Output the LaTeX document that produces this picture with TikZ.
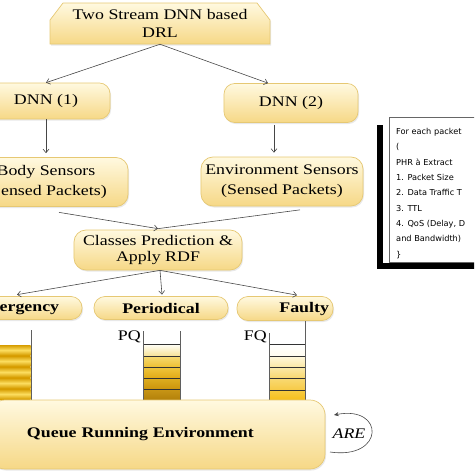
\documentclass[tikz,border=0pt]{standalone}
\usepackage{fontspec}
\setmainfont[FakeStretch=1.22]{Liberation Serif}
\newfontfamily\panelfont{DejaVu Sans}
\usetikzlibrary{shapes.misc,shadows,calc,arrows.meta}

\definecolor{boxtop}{RGB}{255,249,224}
\definecolor{boxbot}{RGB}{246,216,134}
\definecolor{boxline}{RGB}{230,200,115}
\definecolor{linegray}{RGB}{70,70,70}
\definecolor{wallgray}{RGB}{95,95,95}
\definecolor{pq1t}{RGB}{255,255,250}\definecolor{pq1b}{RGB}{246,226,150}
\definecolor{pq2t}{RGB}{246,218,115}\definecolor{pq2b}{RGB}{238,192,50}
\definecolor{pq3t}{RGB}{238,198,62}\definecolor{pq3b}{RGB}{226,170,22}
\definecolor{pq4t}{RGB}{222,174,32}\definecolor{pq4b}{RGB}{204,148,12}
\definecolor{pq5t}{RGB}{200,150,22}\definecolor{pq5b}{RGB}{178,128,10}
\definecolor{fq1t}{RGB}{255,255,255}\definecolor{fq1b}{RGB}{255,252,240}
\definecolor{fq2t}{RGB}{255,248,222}\definecolor{fq2b}{RGB}{251,232,165}
\definecolor{fq3t}{RGB}{251,234,170}\definecolor{fq3b}{RGB}{248,216,112}
\definecolor{fq4t}{RGB}{249,218,115}\definecolor{fq4b}{RGB}{247,202,70}
\definecolor{fq5t}{RGB}{248,204,66}\definecolor{fq5b}{RGB}{245,190,28}
\definecolor{emgA}{RGB}{214,156,0}
\definecolor{emgB}{RGB}{252,222,96}

\tikzset{
  shell/.style={top color=boxtop, bottom color=boxbot, draw=boxline, line width=0.6pt,
    drop shadow={shadow xshift=0.9pt, shadow yshift=-1.3pt, opacity=0.18}},
  base/.style={shell, font=\fontsize{12.5}{14.5}\selectfont, align=center, inner sep=1pt, text=black},
  rbox/.style={base, rounded corners=0.32cm},
  pill/.style={base, rounded corners=0.33cm, font=\bfseries\fontsize{12.5}{14.5}\selectfont},
  arr/.style={draw=linegray, line width=0.5pt, -{Straight Barb[length=3pt,width=5pt]}},
  wall/.style={draw=wallgray, line width=0.8pt},
  cellline/.style={draw=black!80, line width=0.6pt},
  lab/.style={font=\fontsize{12.5}{14.5}\selectfont, inner sep=0pt},
}

\begin{document}
\begin{tikzpicture}[x=0.03cm, y=-0.03cm]
\useasboundingbox (0,0) rectangle (474,474);
\clip (0,0) rectangle (474,474);

% top node (chamfered top corners)
\path[shell] (50,44) -- (50,20) -- (63,3) -- (257,3) -- (270,20) -- (270,44) -- cycle;
\node[minimum width=6.6cm, minimum height=1.23cm, align=center, inner sep=1pt,
  font=\fontsize{12.5}{15.4}\selectfont] (top) at (160,23.5) {Two Stream DNN based\\DRL};

\node[rbox, minimum width=3.84cm, minimum height=1.08cm] (dnn1) at (46,101) {DNN (1)};
\node[rbox, minimum width=4.02cm, minimum height=1.17cm] (dnn2) at (291,103) {DNN (2)};

\node[rbox, rounded corners=0.36cm, minimum width=4.92cm, minimum height=1.47cm,
  font=\fontsize{12.5}{17}\selectfont] (body) at (46,182) {Body Sensors\\(Sensed Packets)};
\node[rbox, rounded corners=0.36cm, minimum width=4.86cm, minimum height=1.47cm,
  font=\fontsize{12.5}{17}\selectfont] (env) at (282,181.5) {Environment Sensors\\(Sensed Packets)};

\node[rbox, rounded corners=0.36cm, minimum width=5.04cm, minimum height=1.2cm] (cls) at (158,250) {Classes Prediction \&\\Apply RDF};

\node[pill, minimum width=3.96cm, minimum height=0.69cm] (emg) at (16,308) {Emergency};
\node[pill, minimum width=4.02cm, minimum height=0.69cm] (per) at (161,308) {Periodical};
\node[pill, minimum width=2.88cm, minimum height=0.72cm, inner xsep=0.12cm,
  text width=2.64cm, align=right] (flt) at (285,308.5) {Faulty};

% connectors
\draw[arr] (top.south) -- (dnn1.north);
\draw[arr] (top.south) -- ($(dnn2.north)+(-23,0)$);
\draw[arr] (dnn1.south) -- ($(body.north)+(0,-4)$);
\draw[arr] ($(dnn2.south)+(-17,2)$) -- ($(env.north)+(-8,-4)$);
\coordinate (clsin) at ($(cls.north)+(0,-1)$);
\draw[arr] ($(body.south)+(13,5.5)$) -- (clsin);
\draw[draw=linegray, line width=0.5pt] ($(env.south)+(18,3.5)$) -- (clsin);
\draw[arr] ($(cls.south)+(2,0)$) -- ($(emg.north)+(1,-1.5)$);
\draw[arr] ($(cls.south)+(2,0)$) -- ($(per.north)+(1,-1.5)$);
\draw[arr] ($(cls.south)+(2,0)$) -- ($(flt.north)+(12,-1)$);

% Emergency queue
\foreach \ya/\yb in {345/355.2, 356/366.2, 367/377.2, 378/388.2, 389/399.2}
  \shade[top color=emgA, bottom color=emgA, middle color=emgB] (-5,\ya) rectangle (30.6,\yb);
\draw[wall] (31,330) -- (31,400);

% PQ queue
\foreach \i/\ya/\yb in {1/344/356, 2/356/367, 3/367/378, 4/378/389, 5/389/400}
  \shade[top color=pq\i t, bottom color=pq\i b] (143,\ya) rectangle (180,\yb);
\foreach \y in {344,356,367,378,389}
  \draw[cellline] (143,\y) -- (180,\y);
\draw[wall] (143,331) -- (143,400);
\draw[wall] (180,331) -- (180,400);
\node[lab, anchor=east] (pq) at (141,337) {PQ};

% FQ queue
\foreach \i/\ya/\yb in {1/344/356, 2/356/367, 3/367/378, 4/378/390, 5/390/400}
  \shade[top color=fq\i t, bottom color=fq\i b] (269,\ya) rectangle (305,\yb);
\foreach \y in {344,356,367,378,390}
  \draw[cellline] (269,\y) -- (305,\y);
\draw[wall] (269,333) -- (269,400);
\draw[wall] (305,321) -- (305,400);
\node[lab, anchor=east] (fq) at (267,337) {FQ};

% Queue running environment
\node[base, rounded corners=0.45cm, minimum width=10.05cm, minimum height=2.07cm,
  inner xsep=1.11cm, text width=7.83cm, align=left,
  font=\bfseries\fontsize{12.5}{14.5}\selectfont] (qre) at (157.5,434.5) {Queue Running Environment};

% ARE loop
\node[lab, font=\itshape\fontsize{12.5}{14.5}\selectfont] (are) at (349,434) {ARE};
\draw[draw=linegray, line width=0.5pt, -{Stealth[length=4pt,width=3.5pt]}]
  ($(are)+(-19,18)$) .. controls ($(are)+(36,26)$) and ($(are)+(36,-29)$) .. ($(are)+(-15,-19)$);

% right panel
\draw[black, line width=5.1pt] (380,125) -- (380,266) -- (480,266);
\draw[draw=gray!80!black, line width=0.4pt, fill=white] (389,117) rectangle (480,262);
\node[anchor=north west, align=left, inner sep=0pt,
  font=\panelfont\fontsize{7}{13.1}\selectfont] (panel) at (396,128)
  {For each packet\\(\\PHR à Extract\\1. Packet Size\\2. Data Traffic T\\3. TTL\\4. QoS (Delay, D\\and Bandwidth)\\\}};
\end{tikzpicture}
\end{document}
